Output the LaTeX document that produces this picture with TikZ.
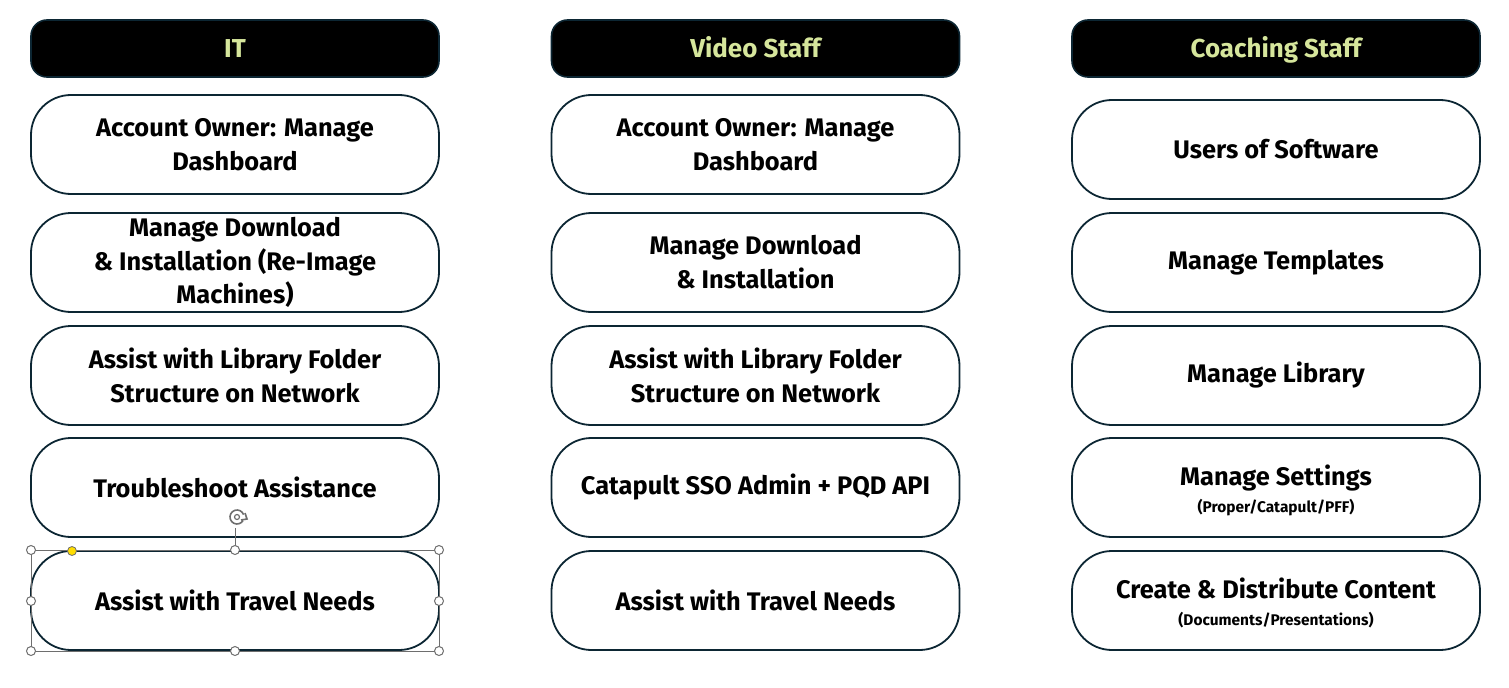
\documentclass[tikz,border=0pt]{standalone}
\usepackage{fontspec}
\setmainfont{Fira Sans}
\usetikzlibrary{arrows.meta}
\definecolor{edge}{RGB}{12,38,51}
\definecolor{hdtext}{RGB}{214,230,156}
\definecolor{handle}{RGB}{110,110,110}
\definecolor{yel}{RGB}{255,221,0}
\newcommand\subtxt[1]{{\fontsize{15.5}{16}\selectfont\bfseries #1}}
\tikzset{
  hdr/.style={draw=edge, line width=1.6bp, fill=black, rounded corners=16bp,
    minimum width=408bp, minimum height=57bp, inner sep=0pt,
    text height=18bp, text depth=0bp,
    text=hdtext, font=\fontsize{26}{30}\selectfont\bfseries},
  item/.style={draw=edge, line width=1.8bp, fill=white, rounded corners=40bp,
    minimum width=408bp, minimum height=99bp, inner sep=0pt, align=center,
    text=black, font=\fontsize{25.5}{34}\selectfont\bfseries},
  itemtext/.style={inner sep=0pt, align=center, text=black,
    font=\fontsize{25.5}{34}\selectfont\bfseries},
  hdl/.style={draw=handle, line width=1bp, fill=white},
}
\begin{document}
\begin{tikzpicture}[x=1bp,y=-1bp]
\useasboundingbox (0,0) rectangle (1509,688);
% headers
\node[hdr] (h1) at (235,48.5) {IT};
\node[hdr] (h2) at (755.5,48.5) {Video Staff};
\node[hdr] (h3) at (1276,48.5) {Coaching Staff};
% IT column
\node[item] (a1) at (235,144.5) {Account Owner: Manage\\Dashboard};
\node[item] (a2) at (235,262.5) {Manage Download\\\& Installation (Re-Image\\Machines)};
\node[item] (a3) at (235,375.5) {Assist with Library Folder\\Structure on Network};
\node[item] (a4) at (235,487.5) {Troubleshoot Assistance};
\node[item] (a5) at (235,600.5) {Assist with Travel Needs};
% Video column
\node[item] (b1) at (755.5,144.5) {Account Owner: Manage\\Dashboard};
\node[item] (b2) at (755.5,262.5) {Manage Download\\\& Installation};
\node[item] (b3) at (755.5,375.5) {Assist with Library Folder\\Structure on Network};
\node[item] (b4) at (755.5,487.5) {Catapult SSO Admin + PQD API};
\node[item] (b5) at (755.5,600.5) {Assist with Travel Needs};
% Coaching column
\node[item] (c1) at (1276,149.5) {Users of Software};
\node[item] (c2) at (1276,262.5) {Manage Templates};
\node[item] (c3) at (1276,375.5) {Manage Library};
\node[item] (c4) at (1276,487.5) {};
\node[itemtext] (c4t) at ([yshift=-2.5bp]c4.center) {Manage Settings\\[-7bp]\subtxt{(Proper/Catapult/PFF)}};
\node[item] (c5) at (1276,600.5) {};
\node[itemtext] (c5t) at ([yshift=-2.5bp]c5.center) {Create \& Distribute Content\\[-7bp]\subtxt{(Documents/Presentations)}};
% selection handles around a5
\draw[draw=handle, line width=0.8bp] (31,550) rectangle (439,651);
\coordinate (rt) at (235,528);
\draw[draw=handle, line width=0.8bp] (235,550) -- (rt);
\foreach \p in {(31,550),(235,550),(439,550),(31,601),(439,601),(31,651),(235,651),(439,651)}
  \draw[hdl] \p circle (4.5bp);
\draw[draw=handle, fill=yel, line width=0.8bp] (72,551) circle (4.5bp);
% rotation icon
\draw[draw=handle, line width=1.6bp] (237,517) ++(20:7bp) arc[start angle=20, end angle=330, radius=7bp];
\draw[draw=handle, line width=1.2bp] (237,517) circle (2.5bp);
\draw[draw=handle, line width=1.6bp] (241,520) -- (247,519) -- (245,513);
\end{tikzpicture}
\end{document}
